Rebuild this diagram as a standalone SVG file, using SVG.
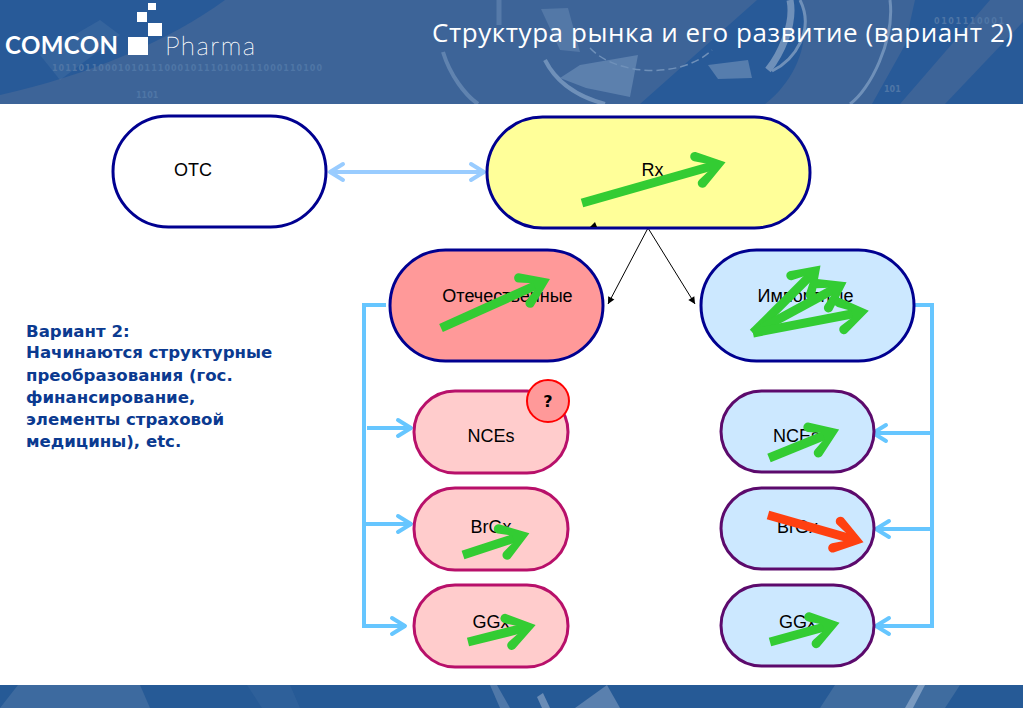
<svg xmlns="http://www.w3.org/2000/svg" width="1023" height="708" viewBox="0 0 1023 708">
<style>
.bn{fill:#3d6498}.dk{fill:#285a98}.lt{fill:#6a8cb6}.arc{fill:none;stroke:#6f90b9}
.bin{font-family:"DejaVu Sans",sans-serif;font-weight:700;font-size:8px;fill:#4f76a6}
.title{font-family:"Open Sans",sans-serif;font-size:26px;fill:#fff}
.side{font-family:"DejaVu Sans",sans-serif;font-weight:700;font-size:16.6px;fill:#0b3a90}
.lbl{font-family:"Liberation Sans",Arial,sans-serif;font-size:18px;fill:#000;text-anchor:middle}
.n{stroke-width:3}
.nv{stroke:#000090}.mg{stroke:#b8106a;fill:#ffcccc}.pu{stroke:#5c0a6c;fill:#cce8ff}
.blue{fill:none;stroke:#66c6ff;stroke-width:4}
.pale{fill:none;stroke:#99ccff;stroke-width:4}
.thin{fill:none;stroke:#000;stroke-width:1}
.g{fill:none;stroke:#33cc33;stroke-width:9;marker-end:url(#gh)}
.r{fill:none;stroke:#ff4010;stroke-width:9;marker-end:url(#rh)}
</style>
<defs>
<marker id="gh" markerUnits="userSpaceOnUse" viewBox="-40 -24 46 48" markerWidth="46" markerHeight="48" refX="-12" refY="0" orient="auto"><path d="M0 0L-26 -18A4.6 4.6 0 0 0 -30 -9.6L-17 -3V3L-30 9.6A4.6 4.6 0 0 0 -26 18Z" fill="#33cc33"/></marker>
<marker id="rh" markerUnits="userSpaceOnUse" viewBox="-40 -24 46 48" markerWidth="46" markerHeight="48" refX="-12" refY="0" orient="auto"><path d="M0 0L-26 -18A4.6 4.6 0 0 0 -30 -9.6L-17 -3V3L-30 9.6A4.6 4.6 0 0 0 -26 18Z" fill="#ff4010"/></marker>
<marker id="bh" markerUnits="userSpaceOnUse" viewBox="-20 -12 24 24" markerWidth="24" markerHeight="24" refX="0" refY="0" orient="auto"><path d="M-14 -8L-1 0L-14 8" fill="none" stroke="#66c6ff" stroke-width="4" stroke-linecap="round" stroke-linejoin="round"/></marker>
<marker id="ph" markerUnits="userSpaceOnUse" viewBox="-20 -12 24 24" markerWidth="24" markerHeight="24" refX="0" refY="0" orient="auto-start-reverse"><path d="M-14 -8L-1 0L-14 8" fill="none" stroke="#99ccff" stroke-width="4" stroke-linecap="round" stroke-linejoin="round"/></marker>
<marker id="bk" markerUnits="userSpaceOnUse" viewBox="-10 -5 11 10" markerWidth="11" markerHeight="10" refX="0" refY="0" orient="auto"><path d="M0 0L-7 -3.5L-7 3.5Z" fill="#000"/></marker>
<clipPath id="hc"><rect width="1023" height="104"/></clipPath>
<clipPath id="fc"><rect y="685" width="1023" height="23"/></clipPath>
</defs>
<rect width="1023" height="708" fill="#fff"/>
<g id="header" clip-path="url(#hc)">
<rect class="bn" width="1023" height="104"/>
<path class="dk" d="M0 0H225C170 40 90 75 0 95Z"/>
<path class="dk" d="M640 104L757 0H800C815 45 790 85 765 104Z"/>
<path class="dk" d="M872 104L905 45L915 0H990L900 104Z"/>
<path class="dk" d="M945 104L1023 22V104Z"/>
<path class="lt" d="M541 9L568 8L580 52L560 50Z" opacity=".5"/>
<path class="lt" d="M580 65L638 55L630 97L586 88L560 78Z" opacity=".7"/>
<path class="lt" d="M708 65L748 60L752 78L718 79Z" opacity=".7"/>
<path class="arc" d="M545 60C560 90 590 100 605 104" stroke-width="4"/>
<path class="arc" d="M890 0C895 40 870 90 850 104" stroke-width="3"/>
<path class="arc" d="M790 0C795 25 780 55 768 70" stroke-width="7"/>
<path class="arc" d="M800 0C815 30 795 60 772 71" stroke-width="3"/>
<path class="arc" d="M590 48C615 75 680 80 712 50" stroke-width="1.5" stroke-dasharray="8 4"/>
<path class="arc" d="M499 0V25" stroke-width="5" opacity=".5"/>
<path class="arc" d="M443 52C450 75 465 95 478 104" stroke-width="4" opacity=".7"/>
<path class="lt" d="M40 55L100 20L120 35L60 80Z" opacity=".2"/>
<text class="bin" x="52" y="71" textLength="270">10110110001010111000101110100111000110100</text>
<text class="bin" x="136" y="98">1101</text>
<text class="bin" x="934" y="24" textLength="70">0101110001</text>
<text class="bin" x="884" y="92">101</text>
<rect x="148" y="3" width="8" height="7" fill="#fff"/>
<rect x="137" y="12" width="10" height="10" fill="#fff"/>
<rect x="148" y="23" width="14" height="13" fill="#fff"/>
<rect x="128" y="37" width="20" height="18" fill="#fff"/>
<text x="5" y="54" font-family="Lato,sans-serif" font-weight="700" font-size="24" fill="#fff" textLength="113">COMCON</text>
<text x="165" y="55" font-family="Lato,sans-serif" font-weight="100" font-size="26" fill="#fff" stroke="#fff" stroke-width=".3" textLength="90">Pharma</text>
<text class="title" x="432" y="42" textLength="581">Структура рынка и его развитие (вариант 2)</text>
</g>
<g id="footer" clip-path="url(#fc)">
<rect y="685" width="1023" height="23" fill="#265a96"/>
<path d="M0 708L18 685H140L150 708Z" fill="#3d6a9f"/>
<path d="M247 685L262 708H300L290 685Z" fill="#3d6a9f" opacity=".4"/>
<path d="M490 685L500 708H510L497 685Z" fill="#6a8cb6" opacity=".6"/>
<path d="M537 697L543 693L550 708H542Z" fill="#6a8cb6"/>
<path d="M575 708L607 685L620 708Z" fill="#5a80ae"/>
<path d="M820 708L835 685H960L945 708Z" fill="#3f6c9f"/>
<path d="M905 708L918 685H925L913 708Z" fill="#7a9ac0"/>
</g>
<g id="connectors">
<path class="pale" d="M329 172H485" marker-start="url(#ph)" marker-end="url(#ph)"/>
<path class="blue" d="M386 305H364V626H406" marker-end="url(#bh)"/>
<path class="blue" d="M367 428H412" marker-end="url(#bh)"/>
<path class="blue" d="M364 524H412" marker-end="url(#bh)"/>
<path class="blue" d="M914 305H932V626H875" marker-end="url(#bh)"/>
<path class="blue" d="M932 433H872" marker-end="url(#bh)"/>
<path class="blue" d="M932 529H875" marker-end="url(#bh)"/>
<path class="thin" d="M648 228L608 304" marker-end="url(#bk)"/>
<path class="thin" d="M648 228L695 304" marker-end="url(#bk)"/>
</g>
<g id="otc"><rect class="n nv" x="113" y="116" width="213" height="111" rx="55.5" fill="#fff"/><text class="lbl" x="193" y="176">OTC</text></g>
<g id="rx"><rect class="n nv" x="487" y="117" width="323" height="111" rx="55.5" fill="#ffff99"/><text class="lbl" x="652.5" y="176">Rx</text></g>
<path d="M595 222L590 227H597Z" fill="#000"/>
<g id="domestic"><rect class="n nv" x="390" y="250" width="213" height="111" rx="55.5" fill="#ff9999"/><text class="lbl" x="507.5" y="302">Отечественные</text></g>
<g id="import"><rect class="n nv" x="701" y="250" width="213" height="111" rx="55.5" fill="#cce8ff"/><text class="lbl" x="805.5" y="302">Импортные</text></g>
<g id="nces-l"><rect class="n mg" x="414" y="391" width="154" height="82" rx="41"/><text class="lbl" x="491" y="442">NCEs</text></g>
<g id="brgx-l"><rect class="n mg" x="414" y="488" width="154" height="82" rx="41"/><text class="lbl" x="491" y="533">BrGx</text></g>
<g id="ggx-l"><rect class="n mg" x="414" y="585" width="154" height="82" rx="41"/><text class="lbl" x="491" y="628">GGx</text></g>
<g id="nces-r"><rect class="n pu" x="721" y="391" width="153" height="81" rx="40.5"/><text class="lbl" x="796.5" y="442">NCEs</text></g>
<g id="brgx-r"><rect class="n pu" x="721" y="488" width="153" height="81" rx="40.5"/><text class="lbl" x="797.5" y="533">BrGx</text></g>
<g id="ggx-r"><rect class="n pu" x="721" y="585" width="153" height="81" rx="40.5"/><text class="lbl" x="797.5" y="628">GGx</text></g>
<g id="badge"><circle cx="548" cy="401" r="21" fill="#ff9999" stroke="#ff0000" stroke-width="2"/><text x="548" y="407" font-family="DejaVu Sans,sans-serif" font-weight="700" font-size="16" text-anchor="middle" fill="#000">?</text></g>
<g id="trend-arrows">
<path class="g" d="M582 203L714 165.5"/>
<path class="g" d="M441 328L539 284"/>
<path class="g" d="M753 333L812 274"/>
<path class="g" d="M753 333L836 288"/>
<path class="g" d="M753 333L857 313"/>
<path class="g" d="M769 458L828 434"/>
<path class="r" d="M768 515L852 539"/>
<path class="g" d="M770 642L828 626"/>
<path class="g" d="M463 555L518 537"/>
<path class="g" d="M468 642L524 628"/>
</g>
<g id="side-note">
<text class="side" x="26" y="337">Вариант 2:</text>
<text class="side" x="26" y="358">Начинаются структурные</text>
<text class="side" x="26" y="381">преобразования (гос.</text>
<text class="side" x="26" y="403">финансирование,</text>
<text class="side" x="26" y="425">элементы страховой</text>
<text class="side" x="26" y="447">медицины), etc.</text>
</g>
</svg>
